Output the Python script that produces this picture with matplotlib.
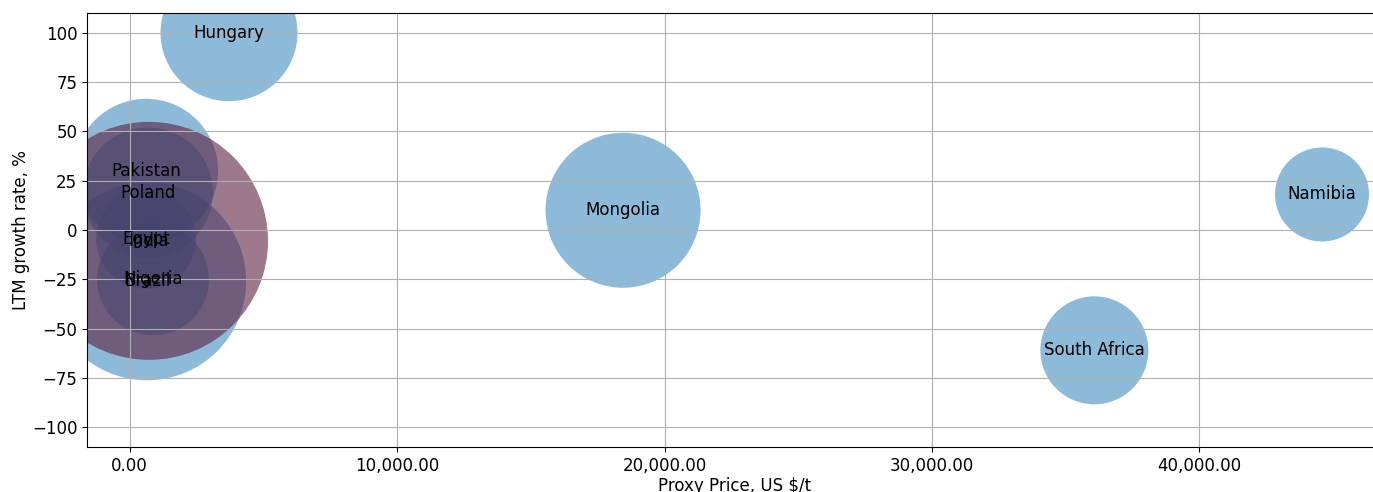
import matplotlib.pyplot as plt
from matplotlib.ticker import FuncFormatter

# bubble data (price, growth, bubble size in pt^2)
countries = ['Hungary', 'Mongolia', 'Namibia', 'South Africa', 'Pakistan',
             'Poland', 'Egypt', 'Brazil', 'Nigeria', 'India']
price = [3720, 18450, 44580, 36070, 620, 690, 620, 660, 880, 729]
growth = [100, 10, 18, -61, 30, 19, -4.5, -26, -25, -5.5]
size = [9725, 12454, 4580, 6046, 10750, 8761, 5184, 20327, 6502, 29370]
group = ['blue'] * 9 + ['red']

colors = {'blue': '#1f77b4', 'red': '#5c2040'}
alphas = {'blue': 0.5, 'red': 0.6}

plt.rcParams['font.size'] = 12

fig = plt.figure(figsize=(13.73, 4.92), dpi=100)
ax = fig.add_axes([87 / 1373, 45 / 492, (1383 - 87) / 1373, 434 / 492])

for c, p, g, s, grp in zip(countries, price, growth, size, group):
    ax.scatter(p, g, s=s, color=colors[grp], alpha=alphas[grp], edgecolors='none')

for c, p, g in zip(countries, price, growth):
    ax.text(p, g, c, ha='center', va='center', fontsize=12)

ax.set_xlim(-1589, 46860)
ax.set_ylim(-110, 110)
ax.set_yticks([-100, -75, -50, -25, 0, 25, 50, 75, 100])
ax.xaxis.set_major_formatter(FuncFormatter(lambda v, _: f"{v:,.2f}"))
ax.grid(True)
ax.set_xlabel("Proxy Price, US $/t", labelpad=1.5)
ax.set_ylabel("LTM growth rate, %", labelpad=1.5)

plt.savefig("out.png", dpi=100)
